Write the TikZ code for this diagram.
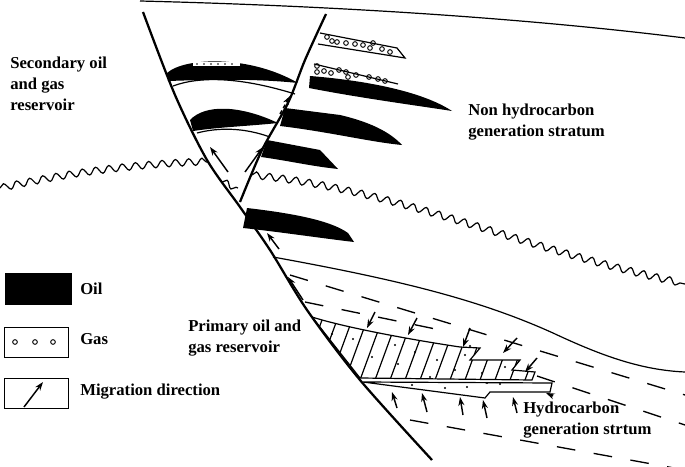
\documentclass[tikz,border=0pt]{standalone}
\usepackage{fontspec}
\setmainfont{Liberation Serif}
\usetikzlibrary{decorations.pathmorphing,arrows.meta}
\begin{document}
\begin{tikzpicture}[x=0.75pt,y=-0.75pt,
  fault/.style={line width=1.7pt},
  thin/.style={line width=0.9pt},
  wave/.style={line width=0.9pt,decorate,decoration={snake,segment length=10pt,amplitude=2.6pt}},
  dashln/.style={line width=1pt,dash pattern=on 14pt off 14pt},
  mig/.style={line width=1.1pt,-{Stealth[length=6.5pt,width=4.5pt]}},
  gasc/.style={draw,circle,inner sep=0pt,minimum size=3.5pt,line width=0.7pt},
  lbl/.style={font=\bfseries\fontsize{12.5}{15.5}\selectfont,align=left,anchor=north west,inner sep=0pt}]
\useasboundingbox (0,0) rectangle (685,467);
\def\respath{(312,317) .. controls (340,326) and (400,338) .. (460,347) -- (480,348) -- (470,360) -- (520,360) -- (512,370) -- (535,372) -- (532,380) -- (360,378) -- cycle}
% top surface
\draw[thin] (140,1) .. controls (300,5) and (500,15) .. (685,38);
% faults
\draw[fault] plot[smooth] coordinates {(143,12) (175,95) (207,160) (240,207) (270,250) (307,310) (360,380) (432,460)};
\draw[fault] plot[smooth] coordinates {(326,14) (305,60) (288,103) (262,150) (240,202)};
% waves
\draw[wave] (0,188) .. controls (60,175) and (120,165) .. (208,162);
\draw[wave] (222,182) -- (238,188);
\draw[wave] (252,175) .. controls (400,190) and (520,250) .. (685,284);
% lenses between faults
\fill (167,73) .. controls (185,57) and (250,55) .. (298,83) .. controls (250,78) and (200,80) .. (168,81) -- cycle;
\fill[white] (193,62) rectangle (240,66);
\foreach \x in {197,204,211,218,225,232} \fill (\x,64) circle (0.8);
\draw[thin] (173,86) .. controls (200,76) and (240,77) .. (295,94);
\fill (190,120) .. controls (205,104) and (240,105) .. (278,123) .. controls (250,126) and (220,127) .. (193,131) -- cycle;
\draw[thin] (197,133) .. controls (220,127) and (245,128) .. (270,137);
% right lenses
\fill (285,108) -- (340,115) .. controls (370,122) and (390,132) .. (402,145) .. controls (370,142) and (330,132) .. (280,126) -- cycle;
\fill (267,140) -- (320,150) -- (338,169) .. controls (310,166) and (290,161) .. (261,157) -- cycle;
\fill (247,208) .. controls (290,213) and (330,220) .. (348,233) -- (354,242) .. controls (320,238) and (280,232) .. (243,228) -- cycle;
% gas strip 1
\draw[thin] (320,33) -- (397,48) -- (405,58) -- (318,44);
\foreach \px/\py in {327/37,332/41,337/42,346/43,355/44,363/45,370/48,373/43,382/49,390/52} \node[gasc] at (\px,\py) {};
% gas + oil strip 2
\draw[thin] (314,64) -- (398,84);
\fill (310,76) .. controls (360,80) and (420,90) .. (452,111) .. controls (420,106) and (360,98) .. (309,88) -- cycle;
\foreach \px/\py in {317/66,317/72,324/71,331/73,339/70,346/72,348/77,356/75,369/77,378/79,385/81} \node[gasc] at (\px,\py) {};
% migration arrows upper
\draw[mig] (228,172) -- (210,147);
\draw[mig] (245,172) -- (263,147);
\draw[mig,dash pattern=on 3pt off 2pt] (280,114) -- (290,96);
\draw[mig] (279,249) -- (267,233);
\draw[mig] (303,300) -- (288,277);
% lower strata
\draw[thin] (273,257) .. controls (400,280) and (480,300) .. (553,333) .. controls (600,355) and (640,370) .. (685,372);
\draw[dashln] (290,275) -- (685,395);
\draw[dashln] (305,302) -- (450,332);
\draw[dashln] (537,376) -- (685,425);
\draw[dashln] (410,420) -- (685,470);
% primary reservoir
\begin{scope}
\clip \respath;
\foreach \x in {300,315,...,560} \draw[thin] (\x,380) -- (\x+22,320);
\end{scope}
\draw[thin] \respath;
\draw[thin] (363,382) -- (552,383) -- (550,392) -- (490,392) -- (485,398) -- cycle;
\foreach \px/\py in {332/334,353/339,372/357,395/345,398/364,415/352,430/377,437/360,455/370,465/355,467/387,470/346,482/373,487/383,500/384,505/367,445/388,412/385} \fill (\px,\py) circle (1.2);
% arrows into reservoir
\foreach \ax/\ay/\bx/\by in {375/312/367/328,417/318/408/335,470/328/463/347,517/338/503/353,537/358/525/372,397/408/392/392,427/412/422/393,463/415/460/397,487/418/483/400,517/413/513/397,553/396/546/393} \draw[mig] (\ax,\ay) -- (\bx,\by);
% legend
\node[fill=black,minimum width=50pt,minimum height=24pt,inner sep=0pt,anchor=north west] (lo) at (5,273) {};
\node[draw,line width=0.9pt,minimum width=48pt,minimum height=22.5pt,inner sep=0pt,anchor=north west] (lg) at (4,327) {};
\foreach \x in {15,35,53} \node[gasc] at (\x,342) {};
\node[draw,line width=0.9pt,minimum width=48pt,minimum height=22.5pt,inner sep=0pt,anchor=north west] (lm) at (4,378) {};
\draw[mig] (24,407) -- (43,382);
\node[lbl] (t1) at (80,283) {Oil};
\node[lbl] (t2) at (80,333) {Gas};
\node[lbl] (t3) at (80,384) {Migration direction};
\node[lbl] (t4) at (10,57) {Secondary oil\\and gas\\reservoir};
\node[lbl] (t5) at (468,104) {Non hydrocarbon\\generation stratum};
\node[lbl] (t6) at (188,320) {Primary oil and\\gas reservoir};
\node[lbl] (t7) at (523,402) {Hydrocarbon\\generation strtum};
\end{tikzpicture}
\end{document}
